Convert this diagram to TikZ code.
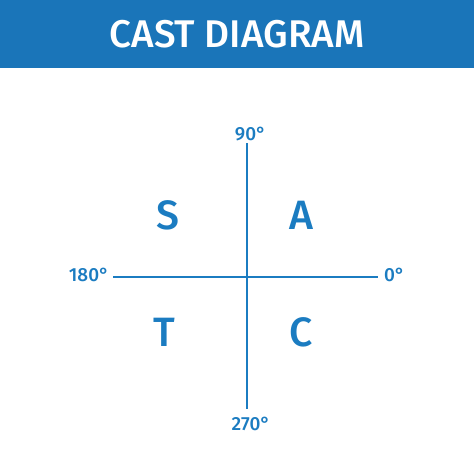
\documentclass[tikz,border=0pt]{standalone}
\usepackage{fontspec}
\setmainfont{Fira Sans}
\newfontfamily\medfont{Fira Sans Medium}
\definecolor{castblue}{HTML}{1A75B9}
\definecolor{linkblue}{HTML}{1B7CC1}
\begin{document}
\begin{tikzpicture}[x=1pt,y=-1pt,
  deg/.style={inner sep=0pt, text=linkblue, font=\medfont\fontsize{19}{19}\selectfont},
  quad/.style={inner sep=0pt, text=linkblue, font=\medfont\fontsize{41}{41}\selectfont},
  axis/.style={draw=linkblue, line width=2pt}]
\useasboundingbox (0,0) rectangle (474,471);
\fill[white] (0,0) rectangle (474,471);
\fill[castblue] (0,0) rectangle (474,68);
\node[inner sep=0pt, text=white, font=\medfont\fontsize{38.6}{38.6}\selectfont] (title) at (237,34.5) {CAST DIAGRAM};
\coordinate (top) at (246.5,143);
\coordinate (bot) at (246.5,409);
\coordinate (left) at (113,277);
\coordinate (right) at (378,277);
\draw[axis] (top) -- (bot);
\draw[axis] (left) -- (right);
\node[deg] (n90) at (250.5,134) {90°};
\node[deg] (n180) at (89,275) {180°};
\node[deg] (n0) at (394.5,275) {0°};
\node[deg] (n270) at (251,424) {270°};
\node[quad] (S) at (167.5,215) {S};
\node[quad] (A) at (301,215) {A};
\node[quad] (T) at (164,332) {T};
\node[quad] (C) at (301,332) {C};
\end{tikzpicture}
\end{document}
